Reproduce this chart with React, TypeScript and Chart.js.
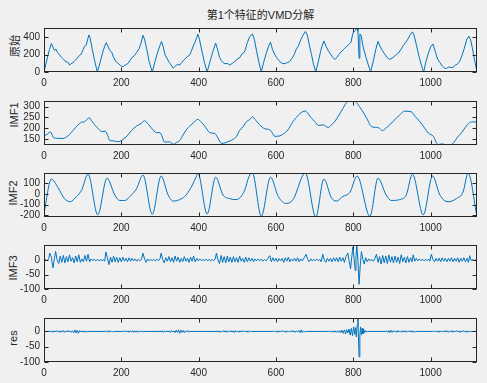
import React, { useEffect, useRef } from 'react';
import { Chart, registerables } from 'chart.js';
Chart.register(...registerables);

const TITLE = '第1个特征的VMD分解';
const X_MIN = 0;
const X_MAX = 1120;
const X_TICKS = [0, 200, 400, 600, 800, 1000];

const ORIGINAL: number[][] = [
  [0,0],[8,150],[14,260],[19,330],[23,290],[27,250],[31,265],[35,225],[40,200],[45,170],[50,150],[55,125],[60,115],[63,110],[66,80],[70,95],[75,110],[80,130],[86,160],[92,195],[96,205],[100,250],[105,300],[109,310],[112,360],[116,430],[119,400],[125,260],[131,130],[138,0],
  [145,110],[152,230],[157,300],[161,340],[165,300],[170,250],[175,230],[180,170],[186,120],[192,100],[198,75],[204,60],[210,80],[216,95],[222,130],[228,170],[234,190],[240,230],[246,270],[250,320],[256,425],[260,380],[266,260],[272,120],[280,0],
  [287,120],[294,230],[300,310],[304,355],[308,300],[313,200],[318,160],[324,110],[329,80],[334,45],[340,70],[346,90],[351,80],[356,110],[362,140],[370,175],[377,200],[381,240],[385,290],[390,340],[395,400],[398,440],[402,380],[409,230],[415,110],[422,0],
  [430,130],[437,240],[444,335],[449,260],[454,170],[459,130],[463,110],[468,95],[474,100],[480,80],[487,100],[493,120],[500,150],[506,165],[512,210],[516,220],[520,250],[526,340],[532,410],[539,440],[544,380],[550,240],[556,110],[562,0],
  [568,110],[575,220],[581,300],[586,345],[591,260],[597,200],[602,165],[608,130],[613,110],[618,95],[624,100],[630,110],[635,120],[641,155],[647,200],[653,270],[658,300],[663,360],[668,410],[672,440],[676,470],[681,430],[686,320],[692,200],[697,90],[703,0],
  [710,130],[716,250],[720,310],[724,360],[729,300],[735,250],[740,215],[746,175],[752,145],[758,170],[763,205],[768,230],[773,255],[778,275],[784,300],[789,320],[794,345],[799,450],[803,470],[806,485],[810,510],[812,470],[815,160],[817,440],[820,430],[826,280],[833,170],[839,80],[845,0],
  [852,130],[858,260],[864,355],[869,300],[875,250],[881,210],[887,170],[894,145],[900,160],[906,180],[911,200],[917,220],[923,260],[929,305],[935,340],[941,380],[947,430],[953,465],[957,430],[963,320],[970,180],[976,80],[982,0],
  [988,120],[995,230],[1000,290],[1006,325],[1012,240],[1018,150],[1024,110],[1030,70],[1036,45],[1041,40],[1047,60],[1053,50],[1058,55],[1064,80],[1070,95],[1075,120],[1081,190],[1087,270],[1093,370],[1099,415],[1103,380],[1108,280],[1114,130],[1120,0]
];

const IMF1: number[][] = [
  [0,166],[8,172],[13,180],[17,183],[21,170],[25,156],[35,154],[49,153],[58,160],[66,171],[75,190],[84,208],[92,222],[97,228],[105,230],[110,238],[116,249],[125,230],[135,208],[142,196],[148,186],[159,186],[165,165],[170,144],[180,142],[191,138],[204,148],[215,165],[226,189],[239,210],[252,223],[260,235],[270,218],[278,201],[291,180],[300,180],[306,160],[312,136],[325,138],[334,126],[343,135],[351,144],[360,170],[368,193],[385,223],[398,241],[407,228],[416,210],[429,180],[442,176],[450,155],[459,130],[470,134],[480,141],[490,150],[498,163],[506,190],[515,208],[524,231],[532,240],[539,253],[548,236],[558,216],[571,198],[584,193],[590,180],[597,163],[610,165],[620,175],[631,193],[644,231],[653,250],[662,268],[676,280],[684,265],[691,249],[700,232],[710,213],[722,216],[735,204],[743,215],[752,231],[762,258],[773,291],[786,324],[799,326],[808,320],[816,300],[825,276],[836,242],[847,208],[860,204],[868,200],[875,189],[884,200],[894,216],[911,246],[922,265],[933,279],[950,276],[960,255],[972,231],[983,205],[994,178],[1007,163],[1019,125],[1030,128],[1045,123],[1058,130],[1070,160],[1080,180],[1090,205],[1100,225],[1110,230],[1120,228]
];

const IMF2: number[][] = [
  [0,-181],[19,136],[36,59],[53,-45],[68,-74],[84,-25],[97,31],[114,181],[139,-195],[163,144],[183,-11],[196,-62],[209,-62],[226,-11],[239,45],[256,173],[280,-190],[303,164],[321,-11],[334,-68],[351,-54],[364,-25],[376,31],[394,158],[398,192],[422,-187],[444,153],[463,-11],[480,-45],[497,-54],[519,31],[530,158],[539,192],[562,-209],[586,153],[606,-25],[627,-90],[644,-54],[676,192],[703,-215],[724,136],[743,-34],[756,-68],[773,-25],[791,11],[810,164],[843,-209],[864,144],[885,-11],[898,-62],[920,-54],[937,-11],[953,181],[981,-195],[1005,164],[1024,-11],[1045,-74],[1067,-45],[1084,17],[1097,192],[1120,-215]
];

const IMF3: number[][] = [
  [0,0],[4,2],[8,-3],[12,5],[15,24],[19,10],[23,-27],[27,5],[30,30],[34,0],[38,-12],[42,14],[46,-8],[50,16],[54,-10],[58,12],[62,-6],[66,18],[70,-4],[74,8],[78,-10],[82,14],[86,-6],[90,18],[94,-8],[98,4],[102,-6],[106,16],[110,-4],[114,20],[118,-6],[122,4],[126,-2],[130,3],[134,-3],[138,2],[142,-2],[146,1],[150,-2],[154,2],[157,-4],[160,28],[164,8],[168,-16],[172,10],[176,-8],[180,14],[184,-6],[188,10],[192,-8],[196,8],[200,-6],[204,10],[208,-4],[212,6],[216,-6],[220,8],[224,-4],[228,6],[232,-3],[236,4],[240,-4],[244,3],[248,-2],[252,2],[256,24],[260,4],[264,-8],[268,4],[272,-3],[276,2],[280,-2],[284,2],[288,-3],[292,3],[296,-2],[300,4],[303,24],[307,2],[311,-10],[315,8],[319,-4],[323,12],[327,-6],[331,8],[335,-8],[339,14],[343,-4],[347,10],[351,-8],[355,6],[359,-6],[363,12],[367,-4],[371,6],[375,-8],[379,10],[383,-4],[387,14],[391,-6],[395,6],[399,-3],[403,4],[407,-2],[411,2],[415,-2],[419,3],[423,-2],[427,2],[431,-3],[435,2],[439,-2],[443,4],[446,24],[450,0],[454,-12],[458,16],[462,-8],[466,12],[470,-10],[474,14],[478,-6],[482,10],[486,-8],[490,12],[494,-6],[498,8],[502,-8],[506,14],[510,-4],[514,6],[518,-8],[522,10],[526,-6],[530,8],[534,-4],[538,6],[542,-6],[546,4],[550,-3],[554,4],[558,-2],[562,3],[566,-4],[570,2],[574,-3],[578,4],[584,15],[588,-6],[592,8],[596,-4],[600,6],[604,-6],[608,5],[612,-3],[616,6],[620,-8],[624,8],[628,-4],[632,10],[636,-6],[640,4],[644,-3],[648,6],[652,-4],[656,8],[660,-6],[664,4],[668,-3],[672,6],[678,20],[682,2],[686,-6],[690,4],[694,-3],[698,2],[702,-2],[706,3],[710,-2],[714,2],[717,-6],[721,20],[725,0],[729,-8],[733,6],[737,-4],[741,6],[745,-6],[749,8],[753,-4],[757,8],[761,-6],[765,10],[769,-4],[773,8],[777,-8],[781,12],[786,24],[790,-10],[793,-30],[796,10],[799,45],[802,5],[805,-36],[807,10],[809,52],[812,0],[815,-84],[818,-20],[821,29],[825,2],[828,-14],[832,8],[836,-6],[840,4],[844,-3],[848,2],[852,-4],[856,6],[860,20],[864,-8],[868,12],[872,-14],[876,16],[880,-10],[884,14],[888,-12],[892,18],[896,-8],[900,12],[904,-10],[908,14],[912,-8],[916,10],[920,-12],[924,18],[928,-6],[932,10],[936,-10],[940,12],[944,-8],[948,8],[952,-6],[955,18],[959,-4],[963,6],[967,-3],[971,4],[975,-2],[979,3],[983,-3],[987,2],[991,-2],[995,4],[998,-4],[1002,20],[1006,2],[1010,-6],[1014,6],[1018,-4],[1022,6],[1026,-6],[1030,8],[1034,-4],[1038,6],[1042,-6],[1046,6],[1050,-4],[1054,8],[1058,-6],[1062,6],[1066,-4],[1070,8],[1074,-8],[1078,6],[1082,-4],[1086,8],[1090,-6],[1094,6],[1098,-8],[1101,15],[1105,-2],[1109,2],[1113,-2],[1117,1],[1120,0]
];

const RES: number[][] = [
  [0,0],[18,0],[20,2],[23,-3],[26,2],[29,-2],[32,3],[35,-2],[38,2],[41,-3],[44,2],[47,-2],[50,3],[53,-3],[56,2],[59,-2],[62,3],[65,-2],[68,2],[71,-3],[74,2],[77,-4],[80,5],[83,-5],[86,4],[89,-6],[92,3],[95,-2],[98,2],[101,-2],[104,2],[107,-3],[110,2],[113,-2],[116,0],[160,0],
  [162,2],[165,-3],[168,3],[171,-2],[174,2],[177,-2],[180,0],[203,0],
  [205,2],[208,-2],[211,3],[214,-2],[217,2],[220,-3],[223,2],[226,-2],[229,3],[232,-3],[235,2],[238,-2],[241,2],[244,-3],[247,2],[250,-2],[253,2],[256,-2],[258,0],[298,0],
  [300,2],[303,-2],[306,3],[309,-3],[312,2],[315,-2],[318,2],[321,-2],[324,2],[327,-3],[330,3],[333,-2],[336,2],[339,-4],[342,4],[345,-3],[348,5],[351,-6],[354,4],[357,-3],[360,3],[363,-4],[366,2],[369,-2],[372,3],[375,-2],[378,0],[445,0],
  [447,2],[450,-2],[453,2],[456,-3],[459,2],[462,-2],[465,3],[468,-2],[471,2],[474,-3],[477,2],[480,-2],[483,3],[486,-2],[489,2],[492,-4],[495,3],[498,-2],[501,2],[504,-3],[507,2],[510,-2],[513,3],[516,-2],[519,2],[522,-2],[525,2],[528,-3],[531,2],[534,0],[591,0],
  [593,2],[596,-2],[599,2],[602,-3],[605,2],[608,-2],[611,2],[614,-2],[617,3],[620,-2],[623,2],[626,-3],[629,2],[632,-2],[635,2],[638,-2],[641,3],[644,-2],[647,2],[650,-3],[653,2],[656,-2],[659,3],[662,-4],[665,5],[668,-4],[671,2],[674,-2],[676,0],[733,0],
  [735,2],[738,-2],[741,2],[744,-3],[747,2],[750,-2],[753,2],[756,-3],[759,2],[762,-3],[765,3],[768,-4],[771,4],[774,-6],[777,5],[780,-8],[783,6],[786,-5],[789,8],[792,-12],[795,10],[798,-14],[801,15],[804,-10],[806,12],[808,-18],[810,20],[812,44],[813,-5],[815,-83],[817,-10],[819,15],[821,-12],[823,10],[825,-8],[827,6],[829,-4],[831,3],[833,-2],[836,0],[884,0],
  [886,2],[889,-3],[892,3],[895,-4],[898,4],[901,-3],[904,3],[907,-2],[910,2],[913,-3],[916,3],[919,-2],[922,2],[925,-3],[928,3],[931,-2],[934,2],[937,-3],[940,2],[943,-2],[946,3],[949,-2],[952,2],[955,-3],[958,2],[961,-2],[964,0],[1005,0],
  [1007,2],[1010,-2],[1013,2],[1016,-2],[1019,2],[1022,-3],[1025,2],[1028,-2],[1031,2],[1034,-2],[1037,3],[1040,-2],[1043,2],[1046,-3],[1049,2],[1052,-2],[1055,3],[1058,-3],[1061,2],[1064,-2],[1067,3],[1070,-2],[1073,2],[1076,-3],[1079,2],[1082,-2],[1085,3],[1088,-2],[1091,2],[1094,-3],[1097,2],[1100,-2],[1103,0],[1120,0]
];

const LABELS = ['原始', 'IMF1', 'IMF2', 'IMF3', 'res'];
const Y_TICKS = [[0, 200, 400], [150, 200, 250, 300], [-200, -100, 0, 100], [-100, -50, 0], [-100, -50, 0]];
const Y_RANGES = [[0, 510], [123, 326], [-215, 192], [-100, 52], [-100, 44]];
const SERIES = [ORIGINAL, IMF1, IMF2, IMF3, RES];
const TENSIONS = [0, 0.4, 0.4, 0, 0];

const TEXT = '#262626';
const LINE = '#0072BD';
const FONT = '"Liberation Sans", Arial, "Noto Sans CJK SC", sans-serif';

const W = 487;
const AX_LEFT = 44;
const AX_RIGHT = 477;
const AX_TOPS = [24, 97, 169, 241, 314];
const AX_H = 48;
const PAD_TOP = 6;
const X_AXIS_H = 22;
const CANVAS_H = PAD_TOP + AX_H + X_AXIS_H;

const boxPlugin = {
  id: 'matlabBox',
  afterDraw(chart: any) {
    const { ctx, chartArea: a, scales } = chart;
    ctx.save();
    ctx.strokeStyle = TEXT;
    ctx.lineWidth = 1;
    const L = Math.round(a.left) + 0.5;
    const R = Math.round(a.right) - 0.5;
    const T = Math.round(a.top) + 0.5;
    const B = Math.round(a.bottom) - 0.5;
    ctx.strokeRect(L, T, R - L, B - T);
    ctx.beginPath();
    const tl = 4;
    for (const t of scales.x.ticks) {
      const px = Math.round(scales.x.getPixelForValue(t.value)) + 0.5;
      ctx.moveTo(px, B); ctx.lineTo(px, B - tl);
      ctx.moveTo(px, T); ctx.lineTo(px, T + tl);
    }
    for (const t of scales.y.ticks) {
      const py = Math.round(scales.y.getPixelForValue(t.value)) + 0.5;
      ctx.moveTo(L, py); ctx.lineTo(L + tl, py);
      ctx.moveTo(R, py); ctx.lineTo(R - tl, py);
    }
    ctx.stroke();
    ctx.restore();
  },
};

function Panel({ idx }: { idx: number }) {
  const ref = useRef<HTMLCanvasElement | null>(null);
  useEffect(() => {
    if (!ref.current) return;
    const data = SERIES[idx].map(([x, y]) => ({ x, y }));
    const yt = Y_TICKS[idx];
    const chart = new Chart(ref.current, {
      type: 'line',
      data: {
        datasets: [{
          data,
          borderColor: LINE,
          borderWidth: 1,
          pointRadius: 0,
          tension: TENSIONS[idx],
          cubicInterpolationMode: TENSIONS[idx] > 0 ? 'monotone' : 'default',
          fill: false,
        }],
      },
      options: {
        animation: false,
        responsive: false,
        maintainAspectRatio: false,
        devicePixelRatio: 1,
        layout: { padding: { left: 0, right: W - AX_RIGHT, top: PAD_TOP, bottom: 0 } },
        plugins: { legend: { display: false }, tooltip: { enabled: false }, title: { display: false } },
        scales: {
          x: {
            type: 'linear',
            min: X_MIN,
            max: X_MAX,
            grid: { display: false, drawTicks: false },
            border: { display: false },
            afterBuildTicks: (s: any) => { s.ticks = X_TICKS.map((v) => ({ value: v })); },
            afterFit: (s: any) => { s.height = X_AXIS_H; },
            ticks: {
              autoSkip: false,
              maxRotation: 0,
              padding: 5,
              color: TEXT,
              font: { family: FONT, size: 10 },
              callback: (v: any) => String(v),
            },
          },
          y: {
            type: 'linear',
            min: Y_RANGES[idx][0],
            max: Y_RANGES[idx][1],
            grid: { display: false, drawTicks: false },
            border: { display: false },
            afterBuildTicks: (s: any) => { s.ticks = yt.map((v) => ({ value: v })); },
            afterFit: (s: any) => { s.width = AX_LEFT; },
            ticks: {
              autoSkip: false,
              padding: 4,
              color: TEXT,
              font: { family: FONT, size: 10 },
              callback: (v: any) => String(v),
            },
          },
        },
      },
      plugins: [boxPlugin],
    } as any);
    return () => chart.destroy();
  }, [idx]);
  return (
    <canvas
      ref={ref}
      width={W}
      height={CANVAS_H}
      style={{ position: 'absolute', left: 0, top: AX_TOPS[idx] - PAD_TOP, width: W, height: CANVAS_H }}
    />
  );
}

const LABEL_X = [15, 14, 13, 13, 13];
const LABEL_DY = [-2, -6, 0, 3, 0];

export default function App() {
  return (
    <div style={{ position: 'fixed', left: 0, top: 0, width: W, height: 383, background: '#F0F0F0', overflow: 'hidden', fontFamily: FONT, color: TEXT }}>
      <div style={{ position: 'absolute', left: AX_LEFT, width: AX_RIGHT - AX_LEFT, top: 9, height: 12, lineHeight: '12px', fontSize: 11, textAlign: 'center', whiteSpace: 'nowrap' }}>{TITLE}</div>
      {LABELS.map((lab, i) => (
        <div key={'l' + i} style={{ position: 'absolute', left: LABEL_X[i] - 30, top: AX_TOPS[i] + AX_H / 2 - 7 + LABEL_DY[i], width: 60, height: 14, lineHeight: '14px', fontSize: 11, textAlign: 'center', transform: 'rotate(-90deg)', whiteSpace: 'nowrap' }}>{lab}</div>
      ))}
      {LABELS.map((_, i) => <Panel key={'p' + i} idx={i} />)}
    </div>
  );
}
